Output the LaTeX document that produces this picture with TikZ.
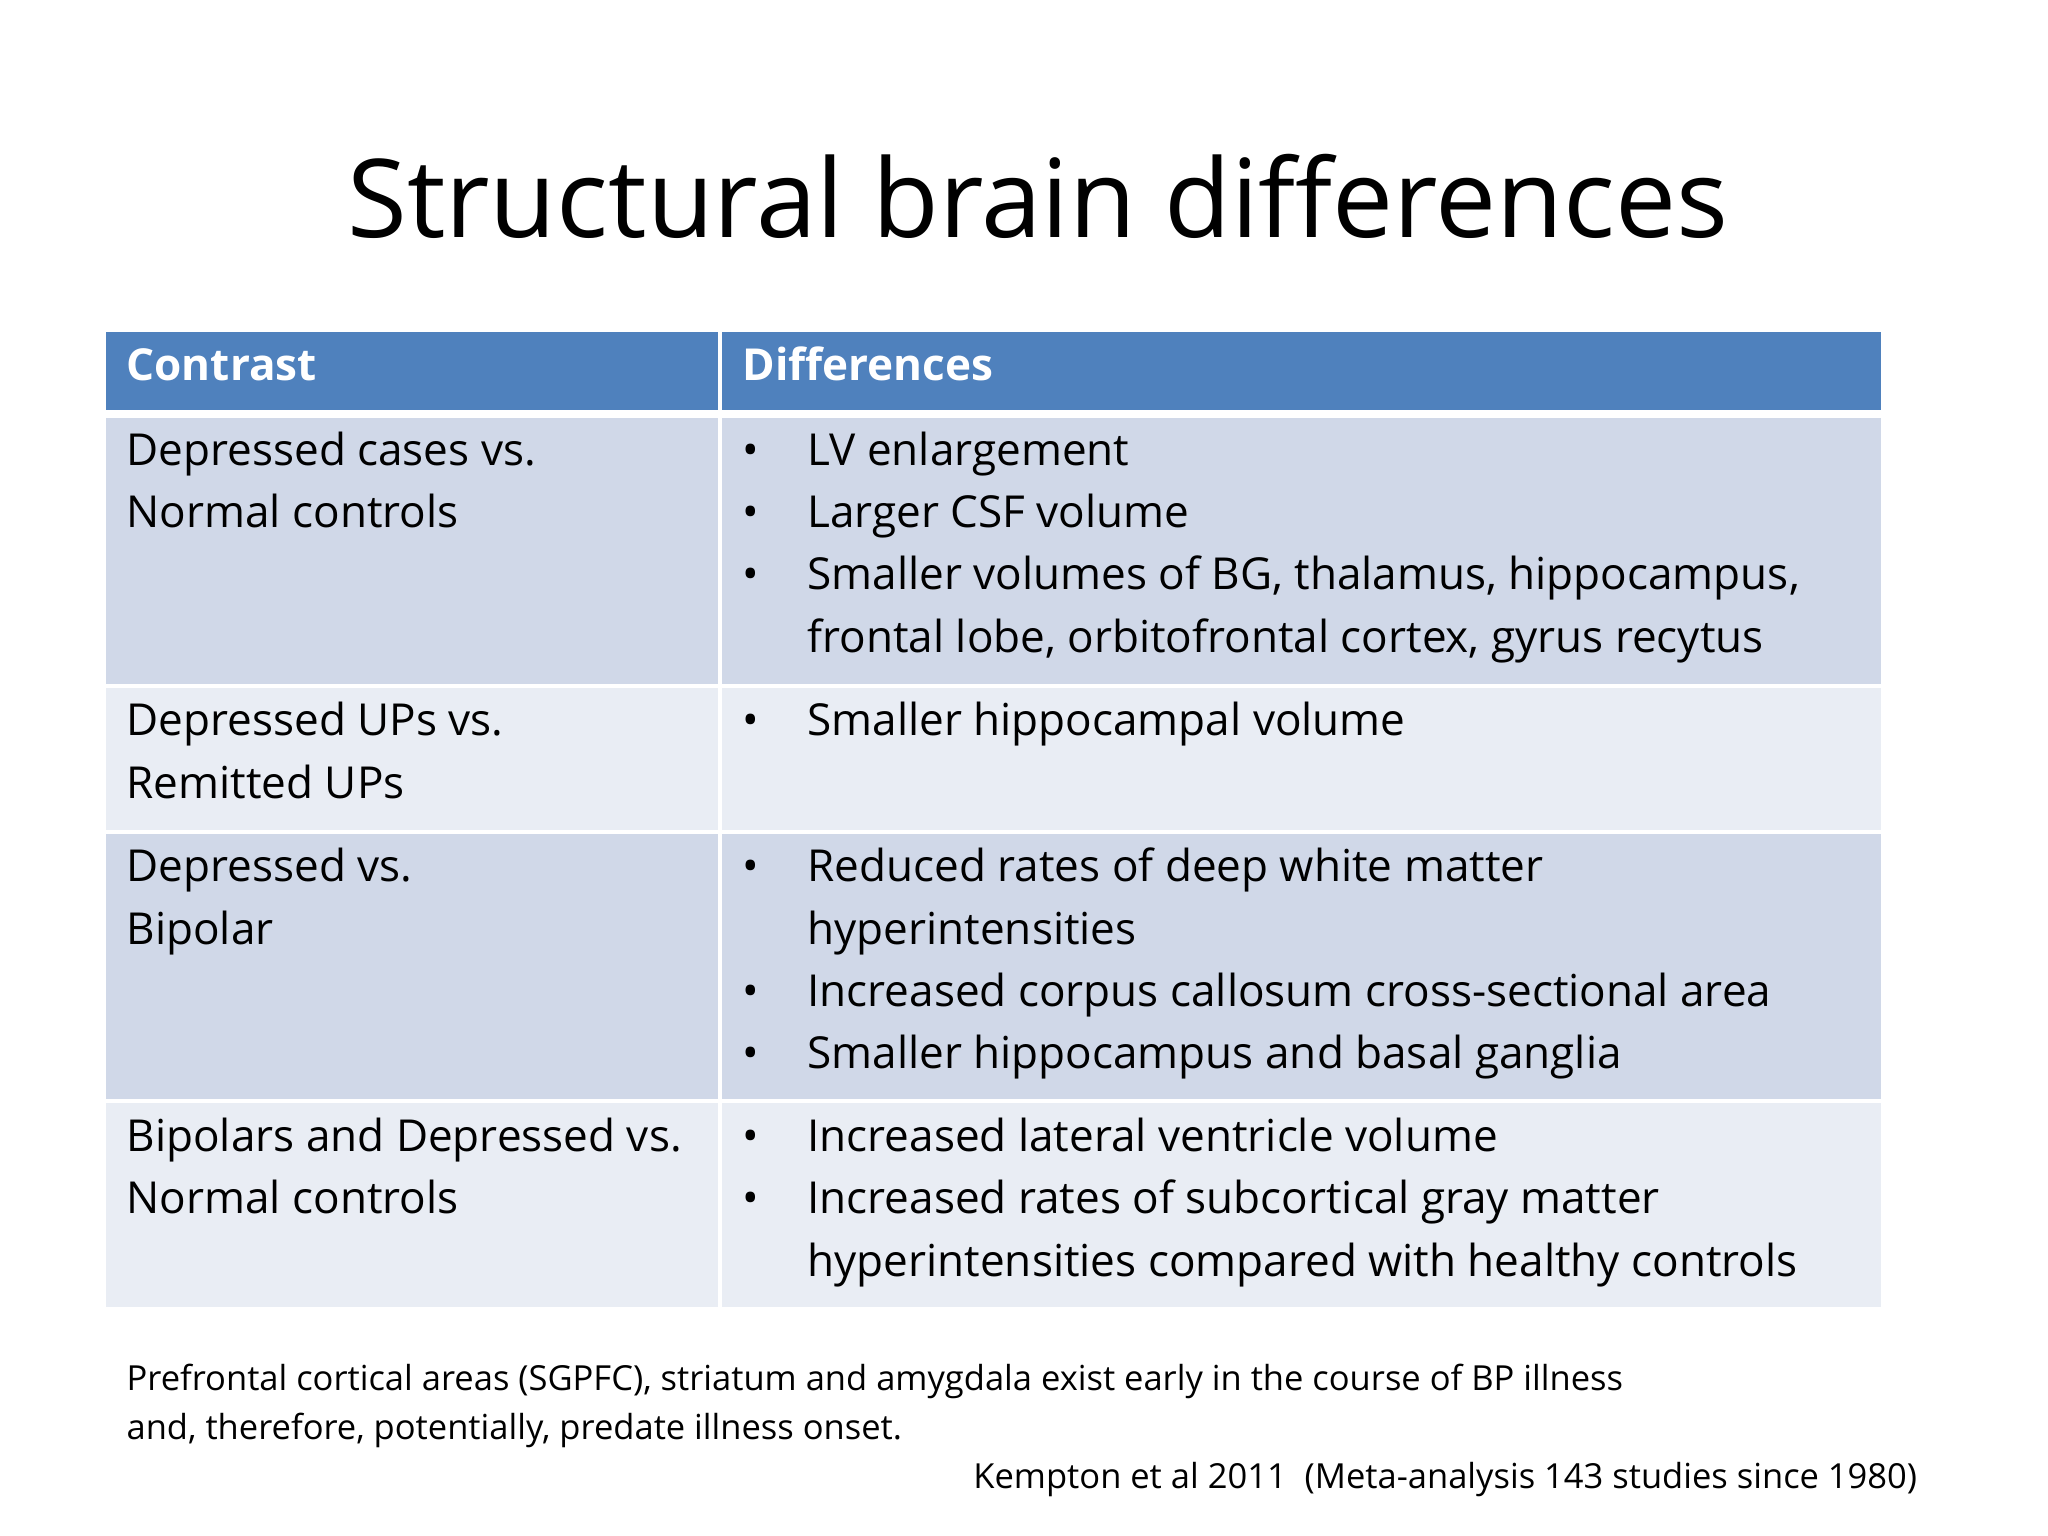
\documentclass[tikz,border=0pt]{standalone}
\usepackage{fontspec}
\setmainfont[Ligatures=NoCommon]{Open Sans}
\definecolor{hdr}{HTML}{4F81BD}
\definecolor{rowa}{HTML}{D0D8E8}
\definecolor{rowb}{HTML}{E9EDF4}
\begin{document}
\begin{tikzpicture}[x=0.5pt,y=-0.5pt,
 txt/.style={anchor=mid west,inner sep=0pt,font=\fontsize{16.6}{20}\selectfont},
 hd/.style={txt,text=white,font=\fontsize{16.6}{20}\selectfont\bfseries},
 fn/.style={anchor=mid west,inner sep=0pt,font=\fontsize{13}{16}\selectfont}]
\useasboundingbox (0,0) rectangle (1543,1157);
\fill[white] (0,0) rectangle (1543,1157);
\node[anchor=center,inner sep=0pt,font=\fontsize{41}{50}\selectfont] (title) at (782,148) {Structural brain differences};
% table fills
\fill[hdr] (80,250) rectangle (541,309);
\fill[hdr] (544,250) rectangle (1417,309);
\fill[rowa] (80,315) rectangle (541,515); \fill[rowa] (544,315) rectangle (1417,515);
\fill[rowb] (80,518) rectangle (541,625); \fill[rowb] (544,518) rectangle (1417,625);
\fill[rowa] (80,628) rectangle (541,828); \fill[rowa] (544,628) rectangle (1417,828);
\fill[rowb] (80,831) rectangle (541,985); \fill[rowb] (544,831) rectangle (1417,985);
\node[hd] (h1) at (95,281) {Contrast};
\node[hd] (h2) at (559,281) {Differences};
% row 1
\node[txt] (a1) at (95,345) {Depressed cases vs.};
\node[txt] (a2) at (95,392) {Normal controls};
\foreach \y/\t [count=\i] in {345/LV enlargement,392/Larger CSF volume,439/{Smaller volumes of BG, thalamus, hippocampus,}} {
 \node[txt] (b\i) at (559,\y) {•}; \node[txt] (c\i) at (608,\y) {\t};}
\node[txt] (c4) at (608,486) {frontal lobe, orbitofrontal cortex, gyrus recytus};
% row 2
\node[txt] (d1) at (95,549) {Depressed UPs vs.};
\node[txt] (d2) at (95,596) {Remitted UPs};
\node[txt] (e0) at (559,549) {•}; \node[txt] (e1) at (608,549) {Smaller hippocampal volume};
% row 3
\node[txt] (f1) at (95,659) {Depressed vs.};
\node[txt] (f2) at (95,706) {Bipolar};
\node[txt] (g0) at (559,659) {•}; \node[txt] (g1) at (608,659) {Reduced rates of deep white matter};
\node[txt] (g2) at (608,706) {hyperintensities};
\node[txt] (g3) at (559,753) {•}; \node[txt] (g4) at (608,753) {Increased corpus callosum cross-sectional area};
\node[txt] (g5) at (559,800) {•}; \node[txt] (g6) at (608,800) {Smaller hippocampus and basal ganglia};
% row 4
\node[txt] (k1) at (95,862) {Bipolars and Depressed vs.};
\node[txt] (k2) at (95,909) {Normal controls};
\node[txt] (m0) at (559,862) {•}; \node[txt] (m1) at (608,862) {Increased lateral ventricle volume};
\node[txt] (m2) at (559,909) {•}; \node[txt] (m3) at (608,909) {Increased rates of subcortical gray matter};
\node[txt] (m4) at (608,956) {hyperintensities compared with healthy controls};
% footnotes
\node[fn] (n1) at (95,1042) {Prefrontal cortical areas (SGPFC), striatum and amygdala exist early in the course of BP illness};
\node[fn] (n2) at (95,1079) {and, therefore, potentially, predate illness onset.};
\node[fn] (n3) at (733,1116) {Kempton et al 2011~ (Meta-analysis 143 studies since 1980)};
\end{tikzpicture}
\end{document}
